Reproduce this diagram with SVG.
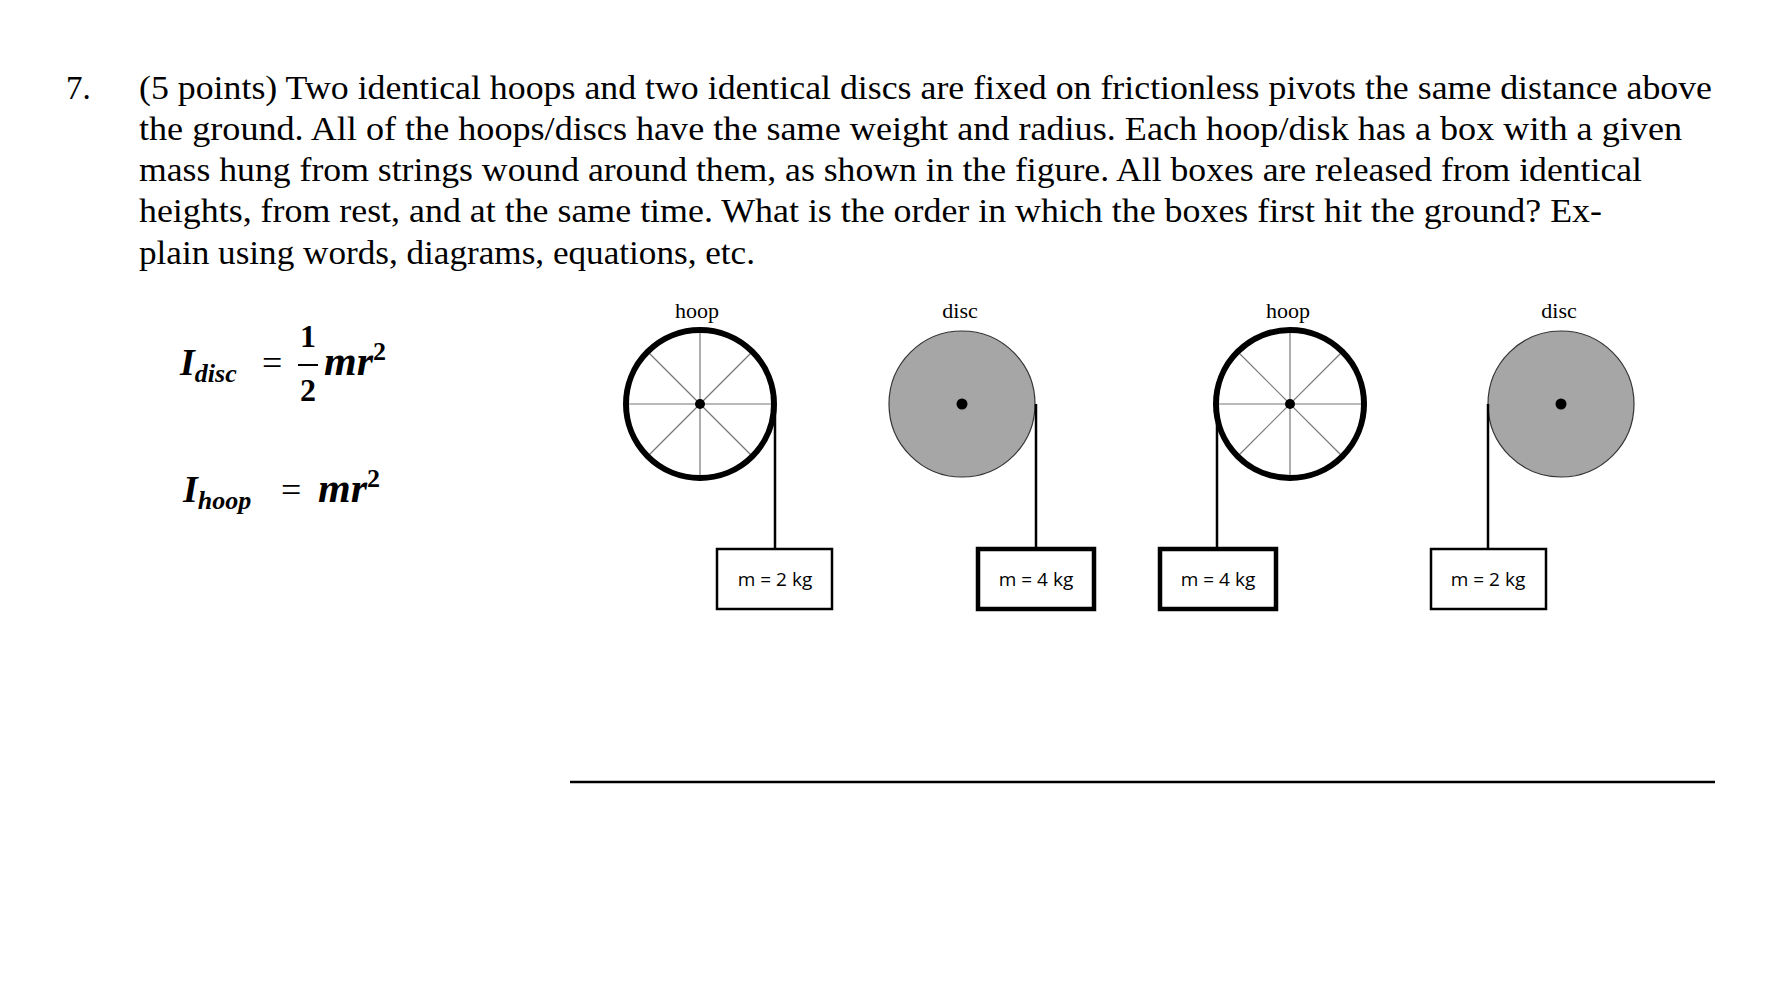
<svg xmlns="http://www.w3.org/2000/svg" width="1789" height="1000" viewBox="0 0 1789 1000">
<style>
.q{font-family:"Liberation Serif",serif;font-size:33px;fill:#000}
.lb{font-family:"Liberation Serif",serif;font-size:22px;fill:#000;text-anchor:middle}
.bx{font-family:"Open Sans","Liberation Sans",sans-serif;font-size:19px;fill:#000;text-anchor:middle}
.eq{font-family:"Liberation Serif",serif;font-weight:bold;font-style:italic;font-size:38px;fill:#000}
.up{font-family:"Liberation Serif",serif;font-weight:bold;font-size:32px;fill:#000;text-anchor:middle}
.eqs{font-family:"Liberation Serif",serif;font-size:36px;fill:#000}
.hoop{fill:none;stroke:#000;stroke-width:6}
.sp{stroke:#777;stroke-width:1.2}
.disc{fill:#a6a6a6;stroke:#333;stroke-width:1.2}
.str{stroke:#000;stroke-width:2.5}
</style>
<rect width="1789" height="1000" fill="#fff"/>
<text class="q" x="66" y="99">7.</text>
<text class="q" x="139" y="99" textLength="1573" lengthAdjust="spacingAndGlyphs">(5 points)  Two identical hoops and two identical discs are fixed on frictionless pivots the same distance above</text>
<text class="q" x="139" y="140" textLength="1543" lengthAdjust="spacingAndGlyphs">the ground. All of the hoops/discs have the same weight and radius. Each hoop/disk has a box with a given</text>
<text class="q" x="139" y="181" textLength="1503" lengthAdjust="spacingAndGlyphs">mass hung from strings wound around them, as shown in the figure. All boxes are released from identical</text>
<text class="q" x="139" y="222" textLength="1463" lengthAdjust="spacingAndGlyphs">heights, from rest, and at the same time. What is the order in which the boxes first hit the ground? Ex-</text>
<text class="q" x="139" y="264" textLength="616" lengthAdjust="spacingAndGlyphs">plain using words, diagrams, equations, etc.</text>
<g id="eqs">
<text class="eq" x="180" y="375">I<tspan font-size="26" dy="7">disc</tspan></text>
<text class="eqs" x="262" y="375">=</text>
<text class="up" x="308" y="347">1</text>
<line x1="298" y1="365" x2="318" y2="365" stroke="#000" stroke-width="2"/>
<text class="up" x="308" y="401">2</text>
<text class="eq" x="324" y="375" font-size="42" style="font-size:42px">mr<tspan dy="-15" style="font-style:normal;font-size:26px">2</tspan></text>
<text class="eq" x="183" y="502">I<tspan font-size="26" dy="7">hoop</tspan></text>
<text class="eqs" x="281" y="502">=</text>
<text class="eq" x="318" y="502" style="font-size:42px">mr<tspan dy="-15" style="font-style:normal;font-size:26px">2</tspan></text>
</g>
<g id="labels">
<text class="lb" x="697" y="318">hoop</text>
<text class="lb" x="960" y="318">disc</text>
<text class="lb" x="1288" y="318">hoop</text>
<text class="lb" x="1559" y="318">disc</text>
</g>
<g id="hoop1">
<g class="sp"><line x1="626" y1="404" x2="774" y2="404"/><line x1="700" y1="330" x2="700" y2="478"/><line x1="648" y1="352" x2="752" y2="456"/><line x1="752" y1="352" x2="648" y2="456"/></g>
<circle class="hoop" cx="700" cy="404" r="74"/><circle cx="700" cy="404" r="5"/>
</g>
<g id="disc1"><circle class="disc" cx="962" cy="404" r="73"/><circle cx="962" cy="404" r="5.5"/></g>
<g id="hoop2">
<g class="sp"><line x1="1216" y1="404" x2="1364" y2="404"/><line x1="1290" y1="330" x2="1290" y2="478"/><line x1="1238" y1="352" x2="1342" y2="456"/><line x1="1342" y1="352" x2="1238" y2="456"/></g>
<circle class="hoop" cx="1290" cy="404" r="74"/><circle cx="1290" cy="404" r="5"/>
</g>
<g id="disc2"><circle class="disc" cx="1561" cy="404" r="73"/><circle cx="1561" cy="404" r="5.5"/></g>
<g id="connectors">
<line class="str" x1="775" y1="404" x2="775" y2="549"/>
<line class="str" x1="1036" y1="404" x2="1036" y2="549"/>
<line class="str" x1="1217" y1="404" x2="1217" y2="549"/>
<line class="str" x1="1488" y1="404" x2="1488" y2="549"/>
</g>
<g id="box1"><rect x="717" y="549" width="115" height="60" fill="#fff" stroke="#000" stroke-width="2.5"/><text class="bx" x="775" y="586">m = 2 kg</text></g>
<g id="box2"><rect x="978" y="549" width="116" height="60" fill="#fff" stroke="#000" stroke-width="4.5"/><text class="bx" x="1036" y="586">m = 4 kg</text></g>
<g id="box3"><rect x="1160" y="549" width="116" height="60" fill="#fff" stroke="#000" stroke-width="4.5"/><text class="bx" x="1218" y="586">m = 4 kg</text></g>
<g id="box4"><rect x="1431" y="549" width="115" height="60" fill="#fff" stroke="#000" stroke-width="2.5"/><text class="bx" x="1488" y="586">m = 2 kg</text></g>
<line x1="570" y1="782" x2="1715" y2="782" stroke="#000" stroke-width="2.5"/>
</svg>
